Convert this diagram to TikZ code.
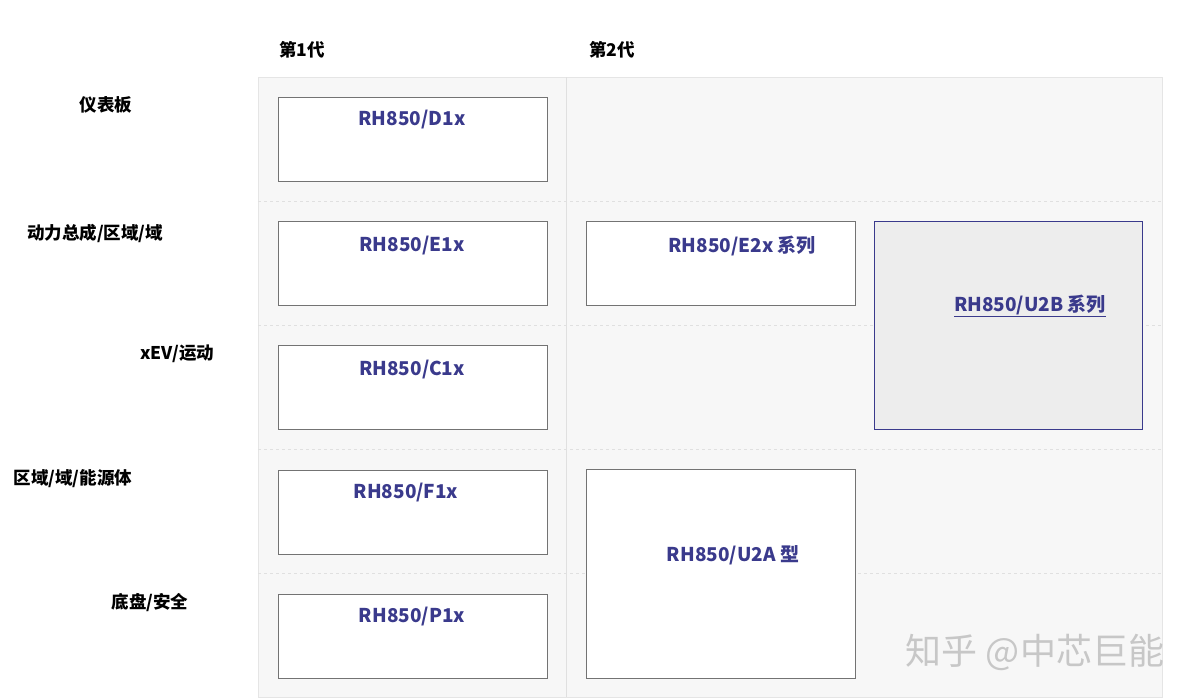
\documentclass[tikz,border=0pt]{standalone}
\usepackage{fontspec}
\setmainfont{Noto Sans CJK SC}
\begin{document}
\begin{tikzpicture}[x=1pt,y=-1pt,
  box/.style={draw=black!55,fill=white,line width=0.6pt},
  lab/.style={font=\bfseries\fontsize{17.5}{19}\selectfont,text=black},
  bl/.style={font=\bfseries\fontsize{19}{21}\selectfont,text={rgb,255:red,58;green,58;blue,140}},
  grid/.style={draw=black!12,dashed,line width=0.6pt}]
\useasboundingbox (0,0) rectangle (1195,700);
\fill[black!3] (258,77) rectangle (1162,697);
\draw[black!10] (258,77) rectangle (1162,697);
\draw[black!12] (566,77) -- (566,697);
\foreach \y in {201,325,449,573} \draw[grid] (258,\y) -- (1162,\y);
\node[lab] (g1) at (302,50) {第1代};
\node[lab] (g2) at (612,50) {第2代};
\node[lab] (r1) at (106,105) {仪表板};
\node[lab] (r2) at (95,233) {动力总成/区域/域};
\node[lab] (r3) at (177,354) {xEV/运动};
\node[lab] (r4) at (73,479) {区域/域/能源体};
\node[lab] (r5) at (150,603) {底盘/安全};
\draw[box] (278,97) rectangle (547,181);
\node[bl] (d1) at (412,120) {RH850/D1x};
\draw[box] (278,221) rectangle (547,305);
\node[bl] (e1) at (412,246) {RH850/E1x};
\draw[box] (278,345) rectangle (547,429);
\node[bl] (c1) at (412,370) {RH850/C1x};
\draw[box] (278,470) rectangle (547,554);
\node[bl] (f1) at (406,493) {RH850/F1x};
\draw[box] (278,594) rectangle (547,678);
\node[bl] (p1) at (412,617) {RH850/P1x};
\draw[box] (586,221) rectangle (855,305);
\node[bl] (e2) at (742,246) {RH850/E2x 系列};
\draw[box] (586,469) rectangle (855,678);
\node[bl] (u2a) at (733,555) {RH850/U2A 型};
\draw[draw={rgb,255:red,58;green,58;blue,140},fill=black!7,line width=0.6pt] (874,221) rectangle (1142,429);
\node[bl] (u2b) at (1030,306) {\underline{RH850/U2B 系列}};
\node[font=\fontsize{36}{38}\selectfont,text=black!22] (wm) at (1035,652) {知乎 @中芯巨能};
\end{tikzpicture}
\end{document}
